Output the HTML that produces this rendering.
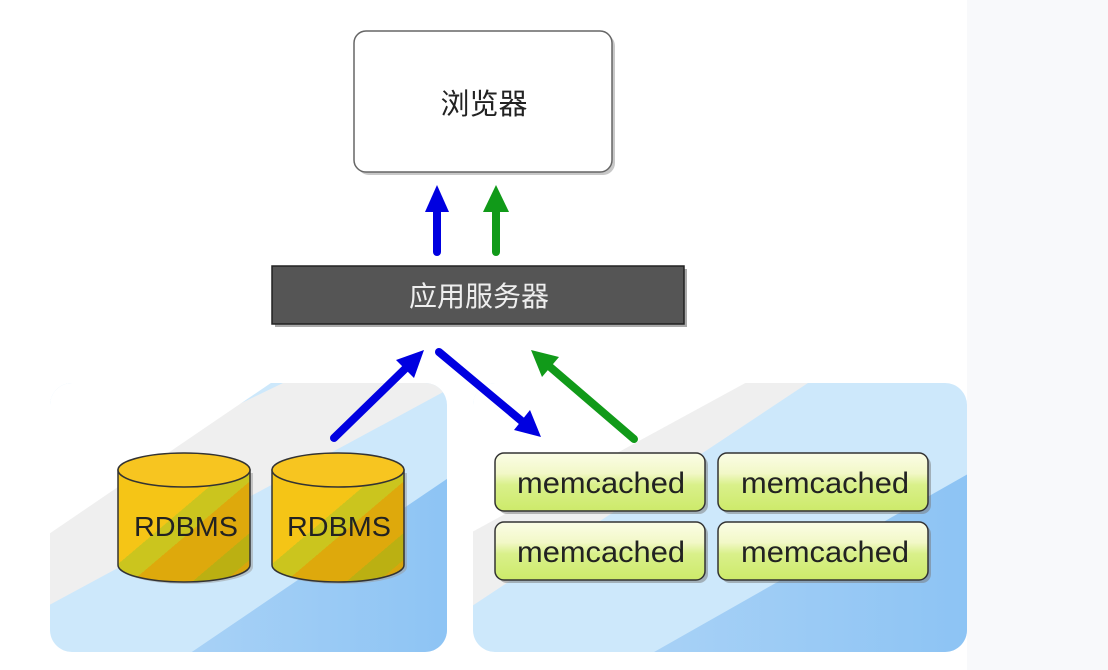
<!DOCTYPE html>
<html><head><meta charset="utf-8"><style>
html,body{margin:0;padding:0;background:#fff;}
svg{display:block;}
</style></head><body>
<svg width="1108" height="670" viewBox="0 0 1108 670" xmlns="http://www.w3.org/2000/svg">
<defs>
<clipPath id="cl"><rect x="50" y="383" width="397" height="269" rx="22"/></clipPath>
<clipPath id="cr"><rect x="473" y="383" width="494" height="269" rx="22"/></clipPath>
<linearGradient id="cyl2" x1="0" y1="0" x2="1" y2="1">
<stop offset="0" stop-color="#f5c516"/><stop offset="0.42" stop-color="#f5c516"/>
<stop offset="0.42" stop-color="#cbc51e"/><stop offset="0.55" stop-color="#cbc51e"/>
<stop offset="0.55" stop-color="#dea90c"/><stop offset="0.78" stop-color="#dea90c"/>
<stop offset="0.78" stop-color="#bbb012"/><stop offset="0.9" stop-color="#bbb012"/>
<stop offset="0.9" stop-color="#d8a50c"/><stop offset="1" stop-color="#d8a50c"/>
</linearGradient>
<linearGradient id="mc" x1="0" y1="0" x2="0" y2="1">
<stop offset="0" stop-color="#fbfde6"/><stop offset="0.35" stop-color="#f2f8c8"/>
<stop offset="0.55" stop-color="#d9f08a"/><stop offset="1" stop-color="#cdea6a"/>
</linearGradient>
<linearGradient id="dk" x1="0" y1="0" x2="1" y2="0">
<stop offset="0" stop-color="#a9d2f6"/><stop offset="1" stop-color="#8cc3f4"/>
</linearGradient>
</defs>
<rect x="967" y="0" width="141" height="670" fill="#f8f9fb"/>
<g clip-path="url(#cl)">
<rect x="50" y="383" width="397" height="269" fill="#cde8fb"/>
<polygon points="40,500 40,610 460,383 460,370 310,370" fill="#efefef"/>
<polygon points="40,370 290,370 40,540" fill="#ffffff"/>
<polygon points="180,660 460,470 460,660" fill="url(#dk)"/>
</g>
<g clip-path="url(#cr)">
<rect x="473" y="383" width="494" height="269" fill="#cde8fb"/>
<polygon points="463,530 463,612 820,375 760,375" fill="#efefef"/>
<polygon points="463,375 760,375 463,537" fill="#ffffff"/>
<polygon points="640,660 975,470 975,660" fill="url(#dk)"/>
</g>
<rect x="357" y="34" width="258" height="141" rx="12" fill="#c8c8c8"/>
<rect x="354" y="31" width="258" height="141" rx="12" fill="#fff" stroke="#666" stroke-width="1.5"/>
<text x="484" y="114" text-anchor="middle" font-family="Liberation Sans, Noto Sans CJK SC, sans-serif" font-size="29" fill="#222">浏览器</text>
<rect x="275" y="269" width="412" height="58" fill="#aaa"/>
<rect x="272" y="266" width="412" height="58" fill="#555" stroke="#222" stroke-width="1.5"/>
<text x="479" y="306" text-anchor="middle" font-family="Liberation Sans, Noto Sans CJK SC, sans-serif" font-size="28" fill="#eee">应用服务器</text>
<g stroke-linecap="round">
<line x1="437" y1="252" x2="437" y2="205" stroke="#0000e0" stroke-width="8"/>
<polygon points="437,185 425,212 449,212" fill="#0000e0"/>
<line x1="496" y1="252" x2="496" y2="205" stroke="#119a19" stroke-width="8"/>
<polygon points="496,185 483,212 509,212" fill="#119a19"/>
<line x1="334" y1="438" x2="408" y2="366" stroke="#0000e0" stroke-width="8"/>
<polygon points="424,350 396,360 414,378" fill="#0000e0"/>
<line x1="439" y1="352" x2="524" y2="423" stroke="#0000e0" stroke-width="8"/>
<polygon points="541,437 514,430 530,410" fill="#0000e0"/>
<line x1="634" y1="439" x2="549" y2="366" stroke="#119a19" stroke-width="8"/>
<polygon points="531,350 559,357 542,377" fill="#119a19"/>
</g>
<g font-family="Liberation Sans, DejaVu Sans, sans-serif" font-size="28" fill="#222" text-anchor="middle">
<path d="M121,473 L121,567 A66,17 0 0 0 253,567 L253,473 Z" fill="#999" opacity="0.5"/>
<path d="M118,470 L118,565 A66,17 0 0 0 250,565 L250,470 Z" fill="url(#cyl2)" stroke="#333" stroke-width="1.5"/>
<ellipse cx="184" cy="470" rx="66" ry="17" fill="#f7c520" stroke="#333" stroke-width="1.5"/>
<text x="186" y="536" textLength="104" lengthAdjust="spacingAndGlyphs">RDBMS</text>
<path d="M275,473 L275,567 A66,17 0 0 0 407,567 L407,473 Z" fill="#999" opacity="0.5"/>
<path d="M272,470 L272,565 A66,17 0 0 0 404,565 L404,470 Z" fill="url(#cyl2)" stroke="#333" stroke-width="1.5"/>
<ellipse cx="338" cy="470" rx="66" ry="17" fill="#f7c520" stroke="#333" stroke-width="1.5"/>
<text x="339" y="536" textLength="104" lengthAdjust="spacingAndGlyphs">RDBMS</text>
</g>
<g font-family="Liberation Sans, DejaVu Sans, sans-serif" font-size="30" fill="#222" text-anchor="middle">
<rect x="498" y="456" width="210" height="58" rx="9" fill="#777" opacity="0.5"/>
<rect x="495" y="453" width="210" height="58" rx="9" fill="url(#mc)" stroke="#333" stroke-width="1.5"/>
<text x="601" y="493" textLength="168" lengthAdjust="spacingAndGlyphs">memcached</text>
<rect x="721" y="456" width="210" height="58" rx="9" fill="#777" opacity="0.5"/>
<rect x="718" y="453" width="210" height="58" rx="9" fill="url(#mc)" stroke="#333" stroke-width="1.5"/>
<text x="825" y="493" textLength="168" lengthAdjust="spacingAndGlyphs">memcached</text>
<rect x="498" y="525" width="210" height="58" rx="9" fill="#777" opacity="0.5"/>
<rect x="495" y="522" width="210" height="58" rx="9" fill="url(#mc)" stroke="#333" stroke-width="1.5"/>
<text x="601" y="562" textLength="168" lengthAdjust="spacingAndGlyphs">memcached</text>
<rect x="721" y="525" width="210" height="58" rx="9" fill="#777" opacity="0.5"/>
<rect x="718" y="522" width="210" height="58" rx="9" fill="url(#mc)" stroke="#333" stroke-width="1.5"/>
<text x="825" y="562" textLength="168" lengthAdjust="spacingAndGlyphs">memcached</text>
</g>
</svg>
</body></html>
